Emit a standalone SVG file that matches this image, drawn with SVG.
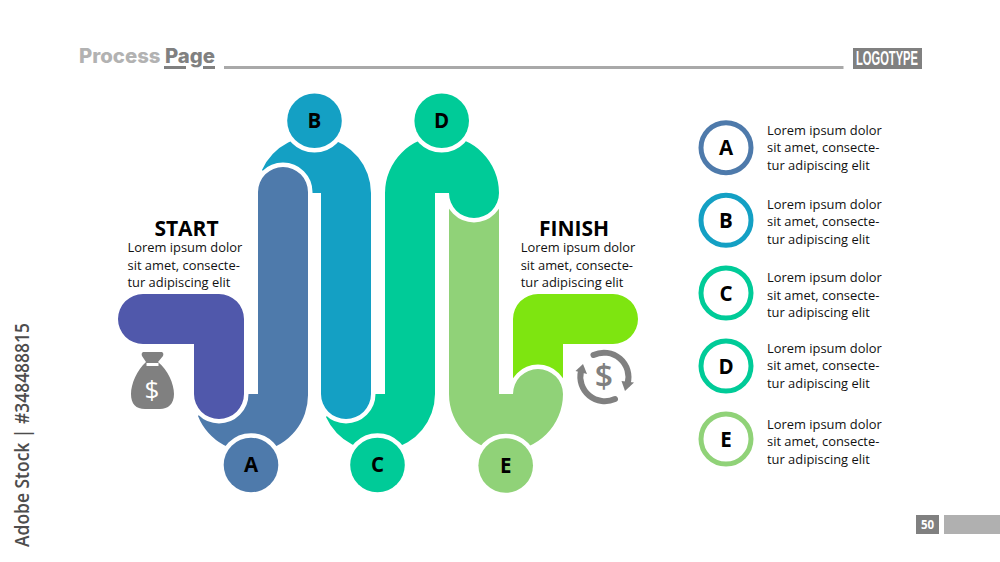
<svg xmlns="http://www.w3.org/2000/svg" width="1000" height="562" viewBox="0 0 1000 562">
<style>
text{font-family:"Open Sans","Liberation Sans",sans-serif;fill:#000}
.tube{stroke:#fff;stroke-width:9;paint-order:stroke fill;stroke-linejoin:round}
.ring{stroke:#fff;stroke-width:9;paint-order:stroke fill}
.let{font-weight:700;font-size:20.5px;text-anchor:middle}
.body{font-size:12.9px;fill:#111}
.head{font-weight:700;font-size:21px;text-anchor:middle}
.leg{fill:#fff;stroke-width:5}
.a{fill:#4e7aab}.b{fill:#14a0c4}.c{fill:#00cb98}.e{fill:#90d278}
.sa{stroke:#4e7aab}.sb{stroke:#14a0c4}.sc{stroke:#00cb98}.se{stroke:#90d278}
.ico{fill:#808080}
</style>
<rect width="1000" height="562" fill="#fff"/>
<g id="header">
<text x="79" y="62.700" style="font-family:Inter,'Open Sans',sans-serif;font-weight:800;font-size:19.500px;fill:#b2b2b2" textLength="136" lengthAdjust="spacingAndGlyphs">Process <tspan style="fill:#808080">Page</tspan></text>
<rect x="164" y="66" width="22" height="3" fill="#808080"/>
<rect x="203" y="66" width="12" height="3" fill="#808080"/>
<rect x="224" y="66" width="619.500" height="3" fill="#a9a9a9"/>
<rect x="853" y="48" width="69" height="21" fill="#808080"/>
<text x="856" y="64.500" style="font-family:'Liberation Sans Narrow','Liberation Sans',sans-serif;font-weight:700;font-size:20px;fill:#fff" textLength="62" lengthAdjust="spacingAndGlyphs">LOGOTYPE</text>
</g>
<g id="connectors">
<path id="tube-finish" fill="#7ee510" d="M538 294H613A25 25 0 0 1 613 344H563V400H513V319A25 25 0 0 1 538 294Z"/>
<path id="tube-e" class="tube e" d="M449 193V394A57 57 0 0 0 563 394A25 25 0 0 0 513 394H499V193Z"/>
<path id="tube-cd" class="tube c" d="M385 394V193A57 57 0 0 1 499 193A25 25 0 0 1 449 193H435V394A57 57 0 0 1 326 417L346 394H385Z"/>
<path id="tube-b" class="tube b" d="M321 394A25 25 0 0 0 371 394V193A57 57 0 0 0 262 170L283 193H321Z"/>
<path id="tube-a" class="tube a" d="M258 192A25 25 0 0 1 308 192V394A57 57 0 0 1 198 416L219 394H258Z"/>
<path id="tube-start" class="tube" fill="#5058ab" d="M143 294H219A25 25 0 0 1 244 319V394A25 25 0 0 1 194 394V344H143A25 25 0 0 1 143 294Z"/>
</g>
<g id="node-a"><circle class="a ring" cx="251" cy="465" r="27.300"/><text class="let" x="251" y="472">A</text></g>
<g id="node-b"><circle class="b ring" cx="314.500" cy="120.700" r="27.300"/><text class="let" x="314.500" y="127.500">B</text></g>
<g id="node-c"><circle class="c ring" cx="377.500" cy="465" r="27.300"/><text class="let" x="377.500" y="472">C</text></g>
<g id="node-d"><circle class="c ring" cx="441.700" cy="120.700" r="27.300"/><text class="let" x="441.700" y="127.500">D</text></g>
<g id="node-e"><circle class="e ring" cx="505.700" cy="465.500" r="27.300"/><text class="let" x="505.700" y="472.500">E</text></g>
<g id="start-label">
<text class="head" x="186.500" y="236">START</text>
<text class="body" x="127.500" y="252">Lorem ipsum dolor</text>
<text class="body" x="127.500" y="269.700">sit amet, consecte-</text>
<text class="body" x="127.500" y="287.300">tur adipiscing elit</text>
</g>
<g id="finish-label">
<text class="head" x="574" y="236">FINISH</text>
<text class="body" x="520.700" y="252">Lorem ipsum dolor</text>
<text class="body" x="520.700" y="269.700">sit amet, consecte-</text>
<text class="body" x="520.700" y="287.300">tur adipiscing elit</text>
</g>
<g id="icon-bag">
<path class="ico" d="M143 352H162Q164 353 163 356L158 362C168 370 174 384 174 394C174 404 168 409 160 409H145C136 409 131 404 131 394C131 384 137 370 146 362L142 356Q141 353 143 352Z"/>
<rect x="146.500" y="363" width="12" height="3" fill="#fff"/>
<text x="152" y="399" text-anchor="middle" style="font-weight:500;font-size:26px;fill:#fff">$</text>
</g>
<g id="icon-cycle">
<path d="M593.500 355A24.500 24.500 0 0 1 627.500 384" fill="none" stroke="#808080" stroke-width="6" stroke-linecap="round"/>
<polygon class="ico" points="621.500,381 634,382.500 625,391"/>
<path d="M615 399A24.500 24.500 0 0 1 581 371" fill="none" stroke="#808080" stroke-width="6" stroke-linecap="round"/>
<polygon class="ico" points="583,364 575.500,371 587,374"/>
<text x="604" y="388" text-anchor="middle" style="font-weight:600;font-size:32px;fill:#808080">$</text>
</g>
<g id="legend-a"><circle class="leg sa" cx="726" cy="147.700" r="25"/><text class="let" x="726" y="155">A</text>
<text class="body" x="767" y="134.500">Lorem ipsum dolor</text><text class="body" x="767" y="152">sit amet, consecte-</text><text class="body" x="767" y="169.500">tur adipiscing elit</text></g>
<g id="legend-b"><circle class="leg sb" cx="726" cy="220.300" r="25"/><text class="let" x="726" y="227.800">B</text>
<text class="body" x="767" y="208.500">Lorem ipsum dolor</text><text class="body" x="767" y="226">sit amet, consecte-</text><text class="body" x="767" y="243.500">tur adipiscing elit</text></g>
<g id="legend-c"><circle class="leg sc" cx="726" cy="293" r="25"/><text class="let" x="726" y="300.500">C</text>
<text class="body" x="767" y="282">Lorem ipsum dolor</text><text class="body" x="767" y="299.500">sit amet, consecte-</text><text class="body" x="767" y="317">tur adipiscing elit</text></g>
<g id="legend-d"><circle class="leg sc" cx="726" cy="366" r="25"/><text class="let" x="726" y="373.500">D</text>
<text class="body" x="767" y="352.500">Lorem ipsum dolor</text><text class="body" x="767" y="370">sit amet, consecte-</text><text class="body" x="767" y="387.500">tur adipiscing elit</text></g>
<g id="legend-e"><circle class="leg se" cx="726" cy="439" r="25"/><text class="let" x="726" y="446.500">E</text>
<text class="body" x="767" y="428.500">Lorem ipsum dolor</text><text class="body" x="767" y="446">sit amet, consecte-</text><text class="body" x="767" y="463.500">tur adipiscing elit</text></g>
<g id="footer">
<rect x="916" y="515" width="23" height="19" fill="#808080"/>
<text x="927.500" y="529" text-anchor="middle" style="font-weight:700;font-size:11.500px;fill:#fff">50</text>
<rect x="944" y="515" width="56" height="19" fill="#b0b0b0"/>
</g>
<text transform="translate(29 547) rotate(-90)" style="font-size:19px;font-weight:600;fill:#4d4d4d" textLength="224" lengthAdjust="spacingAndGlyphs">Adobe Stock | #348488815</text>
</svg>
